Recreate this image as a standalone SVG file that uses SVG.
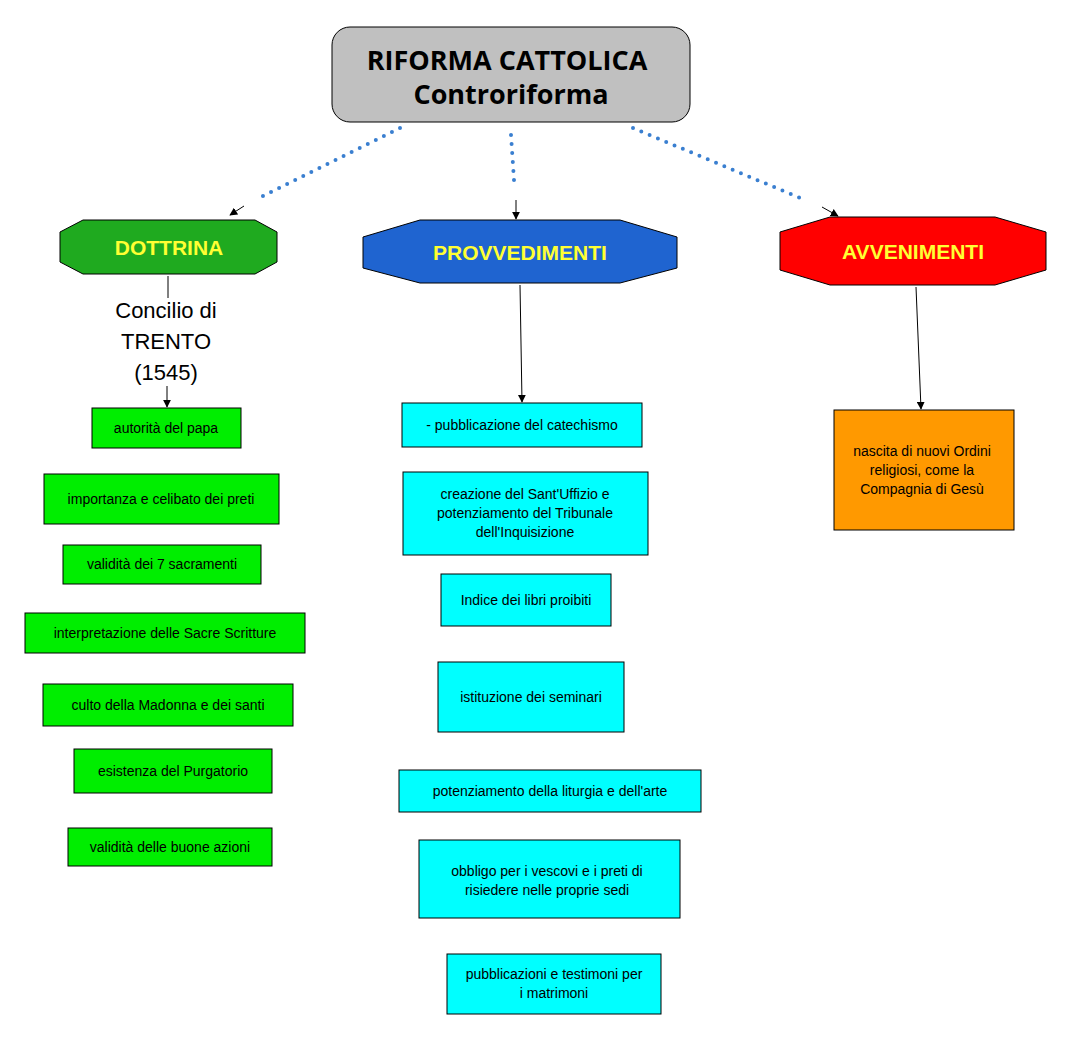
<svg xmlns="http://www.w3.org/2000/svg" width="1073" height="1040" viewBox="0 0 1073 1040">
<defs>
<marker id="ah" viewBox="0 0 10 10" refX="9" refY="5" markerWidth="8" markerHeight="8" orient="auto" markerUnits="userSpaceOnUse"><path d="M0,0L10,5L0,10z" fill="#000"/></marker>
</defs>
<style>
.t{font-family:"Liberation Sans",Arial,sans-serif;font-size:14px;fill:#000;text-anchor:middle}
.g{fill:#00ee00;stroke:#000;stroke-width:1}
.c{fill:#00ffff;stroke:#000;stroke-width:1}
.h{font-family:"Liberation Sans",Arial,sans-serif;font-weight:bold;font-size:21px;fill:#ffff33;text-anchor:middle}
.dot{stroke:#3a7fd0;stroke-width:4;stroke-linecap:round;stroke-dasharray:0 9;fill:none}
.ln{stroke:#000;stroke-width:1;fill:none}
</style>
<rect width="1073" height="1040" fill="#fff"/>
<g id="connectors">
<path class="dot" d="M400,128L255,200"/>
<path class="dot" d="M511,135L514,180"/>
<path class="dot" d="M633,128L805,200"/>
<path class="ln" d="M244,206L230,215" marker-end="url(#ah)"/>
<path class="ln" d="M516,200L516,219" marker-end="url(#ah)"/>
<path class="ln" d="M822,207L838,216" marker-end="url(#ah)"/>
<path class="ln" d="M168,276L168,298"/>
<path class="ln" d="M167,386L167,407" marker-end="url(#ah)"/>
<path class="ln" d="M520,285L522,402" marker-end="url(#ah)"/>
<path class="ln" d="M916,287L921,409" marker-end="url(#ah)"/>
</g>
<g id="root">
<rect x="332" y="27" width="358" height="95" rx="18" fill="#c0c0c0" stroke="#000"/>
<text x="507" y="70" font-family="'Open Sans',sans-serif" font-weight="bold" font-size="27" text-anchor="middle">RIFORMA CATTOLICA</text>
<text x="511" y="104" font-family="'Open Sans',sans-serif" font-weight="bold" font-size="27" text-anchor="middle">Controriforma</text>
</g>
<g id="dottrina">
<polygon points="83,220 255,220 277,232 277,262 255,274 83,274 60,262 60,232" fill="#1faa1f" stroke="#000"/>
<text class="h" x="169" y="255">DOTTRINA</text>
</g>
<g id="provvedimenti">
<polygon points="420,220 620,220 677,237 677,268 620,283 420,283 363,268 363,237" fill="#1f64d0" stroke="#000"/>
<text class="h" x="520" y="260">PROVVEDIMENTI</text>
</g>
<g id="avvenimenti">
<polygon points="830,217 995,217 1046,232 1046,270 995,285 830,285 780,270 780,232" fill="#ff0000" stroke="#000"/>
<text class="h" x="913" y="259">AVVENIMENTI</text>
</g>
<g id="concilio">
<text x="166" y="318" font-family="'Liberation Sans',Arial,sans-serif" font-size="22" text-anchor="middle">Concilio di</text>
<text x="166" y="349" font-family="'Liberation Sans',Arial,sans-serif" font-size="22" text-anchor="middle">TRENTO</text>
<text x="166" y="380" font-family="'Liberation Sans',Arial,sans-serif" font-size="22" text-anchor="middle">(1545)</text>
</g>
<g id="d1"><rect class="g" x="92" y="408" width="149" height="40"/><text class="t" x="166" y="433">autorità del papa</text></g>
<g id="d2"><rect class="g" x="44" y="474" width="235" height="50"/><text class="t" x="161" y="504">importanza e celibato dei preti</text></g>
<g id="d3"><rect class="g" x="63" y="545" width="198" height="39"/><text class="t" x="162" y="569">validità dei 7 sacramenti</text></g>
<g id="d4"><rect class="g" x="25" y="613" width="280" height="40"/><text class="t" x="165" y="638">interpretazione delle Sacre Scritture</text></g>
<g id="d5"><rect class="g" x="43" y="684" width="250" height="42"/><text class="t" x="168" y="710">culto della Madonna e dei santi</text></g>
<g id="d6"><rect class="g" x="74" y="749" width="198" height="44"/><text class="t" x="173" y="776">esistenza del Purgatorio</text></g>
<g id="d7"><rect class="g" x="68" y="828" width="204" height="38"/><text class="t" x="170" y="852">validità delle buone azioni</text></g>
<g id="p1"><rect class="c" x="402" y="403" width="240" height="44"/><text class="t" x="522" y="430">- pubblicazione del catechismo</text></g>
<g id="p2"><rect class="c" x="403" y="472" width="245" height="83"/><text class="t" x="525" y="499">creazione del Sant'Uffizio e</text><text class="t" x="525" y="518">potenziamento del Tribunale</text><text class="t" x="525" y="537">dell'Inquisizione</text></g>
<g id="p3"><rect class="c" x="441" y="574" width="170" height="52"/><text class="t" x="526" y="605">Indice dei libri proibiti</text></g>
<g id="p4"><rect class="c" x="438" y="662" width="186" height="70"/><text class="t" x="531" y="702">istituzione dei seminari</text></g>
<g id="p5"><rect class="c" x="399" y="770" width="302" height="42"/><text class="t" x="550" y="796">potenziamento della liturgia e dell'arte</text></g>
<g id="p6"><rect class="c" x="419" y="840" width="261" height="78"/><text class="t" x="547" y="876">obbligo per i vescovi  e i preti di</text><text class="t" x="547" y="895">risiedere nelle proprie sedi</text></g>
<g id="p7"><rect class="c" x="447" y="954" width="214" height="60"/><text class="t" x="554" y="979">pubblicazioni e testimoni per</text><text class="t" x="554" y="998">i matrimoni</text></g>
<g id="a1"><rect x="834" y="410" width="180" height="120" fill="#ff9900" stroke="#000"/><text class="t" x="922" y="456">nascita di nuovi Ordini</text><text class="t" x="922" y="475">religiosi, come la</text><text class="t" x="922" y="494">Compagnia di Gesù</text></g>
</svg>
